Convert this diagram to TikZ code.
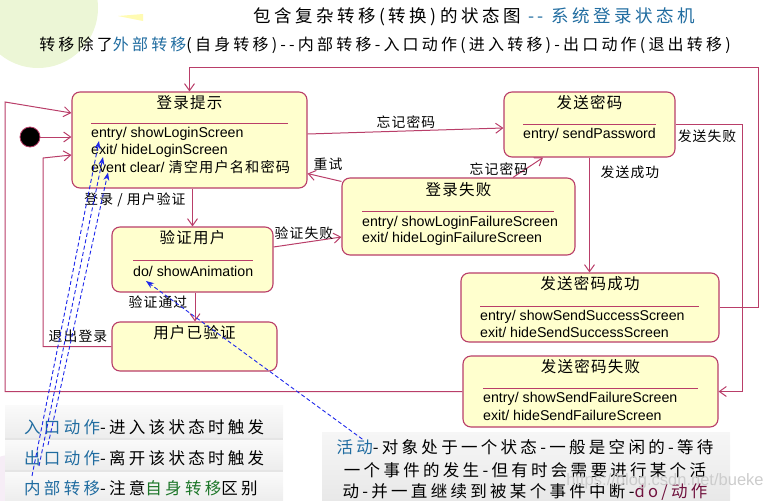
\documentclass[tikz,border=0pt]{standalone}
\usepackage{fontspec}
\setmainfont{Liberation Sans}
\newfontfamily\fzA[LetterSpace=20]{Noto Sans CJK SC}
\newfontfamily\fzB[LetterSpace=8]{Noto Sans CJK SC}
\usetikzlibrary{arrows.meta}
\definecolor{edgecol}{RGB}{185,62,105}
\definecolor{statefill}{RGB}{255,255,206}
\definecolor{hlblue}{RGB}{32,108,160}
\definecolor{hlgreen}{RGB}{28,118,40}
\definecolor{domaroon}{RGB}{112,18,62}
\definecolor{notecol}{RGB}{30,40,235}
\definecolor{decogreen}{RGB}{236,246,214}
\newcommand{\zhbody}[1]{{\fzB\fontsize{14.2}{17}\selectfont #1}}
\begin{document}
\begin{tikzpicture}[x=1pt,y=-1pt,
  statebox/.style={draw=edgecol,line width=1.1pt,fill=statefill,rounded corners=8pt,inner sep=0pt},
  stitle/.style={font=\fzB\fontsize{15.5}{18}\selectfont,inner sep=0pt},
  body/.style={anchor=west,font=\fontsize{14.2}{16}\selectfont,inner sep=0pt},
  sepline/.style={draw=edgecol,line width=1pt},
  trans/.style={draw=edgecol,line width=1pt,-{Straight Barb[length=7pt,width=10pt,line width=1pt]}},
  tlabel/.style={font=\fzB\fontsize{13.8}{16}\selectfont,inner sep=0pt},
  notearrow/.style={draw=notecol,line width=0.9pt,dash pattern=on 4pt off 2.5pt,-{Stealth[length=8pt,width=6pt]}},
  bignote/.style={font=\fzA\fontsize{16.5}{20}\selectfont,inner sep=0pt},
  band/.style={top color=gray!4,bottom color=gray!14}
]
\useasboundingbox (0,0) rectangle (769,501);
% background decoration
\begin{scope}
\clip (0,0) rectangle (769,501);
\fill[decogreen] (38,8) circle (60pt);
\fill[yellow!30] (118,16) -- (143,14) -- (143,21) -- cycle;
\fill[violet!7] (10,485) circle (30pt);
\end{scope}

% titles
\node[font=\fzA\fontsize{17.5}{20}\selectfont,inner sep=0pt] (title) at (474,17) {包含复杂转移(转换)的状态图 \textcolor{hlblue}{-{}- 系统登录状态机}};
\node[font=\fzA\fontsize{16}{19}\selectfont,inner sep=0pt] (subtitle) at (385,45) {转移除了\textcolor{hlblue}{外部转移}(自身转移)-{}-内部转移-入口动作(进入转移)-出口动作(退出转移)};

% states
\node[statebox,minimum width=235pt,minimum height=96pt] (ls) at (189.5,140) {};
\node[statebox,minimum width=171pt,minimum height=65pt] (sp) at (589.5,124.5) {};
\node[statebox,minimum width=233pt,minimum height=77pt] (lf) at (458.5,216.5) {};
\node[statebox,minimum width=161pt,minimum height=65pt] (vu) at (192.5,259.5) {};
\node[statebox,minimum width=165pt,minimum height=49pt] (uv) at (194.5,346.5) {};
\node[statebox,minimum width=258pt,minimum height=69pt] (ss) at (590,307.5) {};
\node[statebox,minimum width=255pt,minimum height=71pt] (sf) at (590.5,391.5) {};

\node[stitle] (lsT) at (189.5,103) {登录提示};
\node[stitle] (spT) at (589.5,103) {发送密码};
\node[stitle] (lfT) at (458.5,190) {登录失败};
\node[stitle] (vuT) at (192.5,238) {验证用户};
\node[stitle] (uvT) at (194.5,333) {用户已验证};
\node[stitle] (ssT) at (590,284) {发送密码成功};
\node[stitle] (sfT) at (590.5,367) {发送密码失败};

\draw[sepline] (91,123.5) -- (288,123.5);
\draw[sepline] (523,124) -- (656,124);
\draw[sepline] (362,211) -- (554,211);
\draw[sepline] (133,260) -- (253,260);
\draw[sepline] (480,306) -- (699,306);
\draw[sepline] (483,388) -- (698,388);

\node[body] (ls1) at (91,134) {entry/ showLoginScreen};
\node[body] (ls2) at (91,151) {exit/ hideLoginScreen};
\node[body] (ls3) at (91,167.5) {event clear/ \zhbody{清空用户名和密码}};
\node[body] (sp1) at (523,135) {entry/ sendPassword};
\node[body] (lf1) at (362,223) {entry/ showLoginFailureScreen};
\node[body] (lf2) at (362,238.5) {exit/ hideLoginFailureScreen};
\node[body] (vu1) at (133,271) {do/ showAnimation};
\node[body] (ss1) at (480,317) {entry/ showSendSuccessScreen};
\node[body] (ss2) at (480,332.5) {exit/ hideSendSuccessScreen};
\node[body] (sf1) at (483,399) {entry/ showSendFailureScreen};
\node[body] (sf2) at (483,415) {exit/ hideSendFailureScreen};

% initial state
\node[circle,fill=black,draw=edgecol,line width=0.8pt,minimum size=20pt,inner sep=0pt] (init) at (30,137) {};

% helper coordinates
\coordinate (topR) at (758,67);
\coordinate (topL) at (5,102);
\coordinate (elbow) at (43,158);
\coordinate (rj) at (742,0);

% transitions
\draw[trans] (init) -- ([yshift=3pt]ls.west);
\draw[trans] (ss.east) -| (topR) -| (ls.north);
\draw[trans] (sf.west) -| (topL) -- ([yshift=27pt]ls.west);
\draw[trans] (uv.west) -| (elbow) -- ([yshift=-15pt]ls.west);
\draw[trans] (vu.north |- ls.south) -- (vu.north);
\draw[trans] ([xshift=2.5pt]vu.south) -- ([xshift=2.5pt]vu.south |- uv.north);
\draw[trans] ([yshift=12.5pt]vu.east) -- ([yshift=-20.5pt]lf.west);
\draw[trans] ([yshift=-4pt]lf.north west) -- ([yshift=15pt]ls.south east);
\draw[trans] ([yshift=6pt]ls.east) -- ([yshift=-3.5pt]sp.west);
\draw[trans] ([xshift=54.5pt]lf.north) -- ([xshift=-46.5pt]sp.south);
\draw[trans] (sp.south) -- (sp.south |- ss.north);
\draw[trans] (sp.east) -| (rj |- sf.east) -- (sf.east);

% transition labels
\node[tlabel] (l1) at (406,122) {忘记密码};
\node[tlabel] (l2) at (499,169) {忘记密码};
\node[tlabel] (l3) at (328,164) {重试};
\node[tlabel] (l4) at (304,233) {验证失败};
\node[tlabel] (l5) at (135,200) {登录 / 用户验证};
\node[tlabel] (l6) at (158,302) {验证通过};
\node[tlabel] (l7) at (78,336) {退出登录};
\node[tlabel] (l8) at (630,172) {发送成功};
\node[tlabel] (l9) at (707,136) {发送失败};

% notes boxes
\fill[gray!20] (5,405) rectangle (283,501);
\shade[band] (5,405) rectangle (283,437);
\shade[band] (5,440) rectangle (283,469);
\shade[band] (5,472) rectangle (283,501);
\node[bignote,anchor=west] (n1) at (24,427) {\textcolor{hlblue}{入口动作}-进入该状态时触发};
\node[bignote,anchor=west] (n2) at (24,458) {\textcolor{hlblue}{出口动作}-离开该状态时触发};
\node[bignote,anchor=west] (n3) at (24,488) {\textcolor{hlblue}{内部转移}-注意\textcolor{hlgreen}{自身转移}区别};

\shade[top color=gray!7,bottom color=gray!18] (322,432) rectangle (730,501);
\node[bignote] (a1) at (525,447) {\textcolor{hlblue}{活动}-对象处于一个状态-一般是空闲的-等待};
\node[bignote] (a2) at (525,470) {一个事件的发生-但有时会需要进行某个活};
\node[bignote] (a3) at (525,492) {动-并一直继续到被某个事件中断-\textcolor{domaroon}{do/动作}};

\node[font=\fontsize{16.5}{18}\selectfont,text=gray!40,inner sep=0pt] (wm) at (665,481) {https://blog.csdn.net/bueke};

% note arrows
\coordinate (e1) at (32,476);
\coordinate (e2) at (39,466);
\coordinate (e3) at (48,445);
\draw[notearrow] (e1) -- ([shift={(8pt,-7pt)}]ls1.west);
\draw[notearrow] (e2) -- ([shift={(12pt,-6pt)}]ls2.west);
\draw[notearrow] (e3) -- ([shift={(17pt,-5pt)}]ls3.west);
\draw[notearrow] ([xshift=26pt]a1.north west) -- ([shift={(13pt,-10pt)}]vu1.west);
\end{tikzpicture}
\end{document}
